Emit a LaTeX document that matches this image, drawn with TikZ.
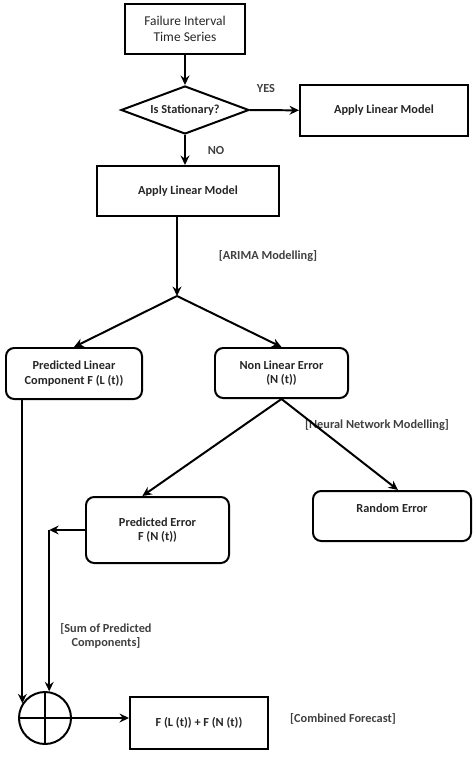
\documentclass[tikz,border=0pt]{standalone}
\usepackage{fontspec}
\setmainfont{Carlito}
\usetikzlibrary{positioning}
\usetikzlibrary{arrows.meta,shapes.geometric,calc}

\begin{document}
\begin{tikzpicture}[x=0.03cm, y=-0.03cm, line width=1.7pt,
  >={Stealth[length=8pt,width=7.5pt]},
  txt/.style={font=\fontsize{10.5}{12.5}\selectfont\bfseries, text=black!85},
  sqbox/.style={draw, rectangle, txt, align=center, inner sep=0pt},
  rbox/.style={sqbox, rounded corners=7pt},
  lbl/.style={txt, text=black!75, align=center}]

 \useasboundingbox (0,0) rectangle (474,758);

 % level 1
 \node[sqbox, font=\fontsize{11.5}{14}\selectfont, minimum width=3.6cm, minimum height=1.5cm] (ts) at (185,29) {Failure Interval\\Time Series};
 \node[draw, diamond, txt, inner sep=0pt, shape aspect=2.67, minimum width=3.84cm, minimum height=1.44cm] (stat) at (185,110) {Is Stationary?};
 \node[sqbox, minimum width=5.04cm, minimum height=1.53cm] (lin1) at (384,110.5) {Apply Linear Model};
 \node[sqbox, minimum width=5.46cm, minimum height=1.5cm] (lin2) at (188,191) {Apply Linear Model};
 \coordinate (split) at (177,296);

 %level 2
 \node[rbox, minimum width=4.08cm, minimum height=1.53cm] (plc) at (74,373.5) {Predicted Linear\\Component F (L (t))};
 \node[rbox, minimum width=3.99cm, minimum height=1.5cm] (nle) at (281.5,373) {Non Linear Error\\(N (t))};

 %level 3
 \node[rbox, minimum width=4.29cm, minimum height=1.98cm] (pe) at (157.5,530) {Predicted Error\\F (N (t))};
 \node[rbox, minimum width=4.74cm, minimum height=1.5cm, text depth=0.45cm] (re) at (392,516) {Random Error};

 % sum
 \node[draw, circle, minimum size=1.56cm, inner sep=0pt,
   path picture={\draw (path picture bounding box.north) -- (path picture bounding box.south)
                       (path picture bounding box.west) -- (path picture bounding box.east);}] (sum) at (45,718) {};
 \node[sqbox, minimum width=4.14cm, minimum height=1.56cm] (fc) at (199,723) {F (L (t)) + F (N (t))};

 % labels
 \foreach \x/\y/\txt/\n in {266/89/YES/yes, 216/151/NO/no, 268/256/[ARIMA Modelling]/arima,
                            377/425/[Neural Network Modelling]/nn, 343/719/[Combined Forecast]/comb}
   \node[lbl] (\n) at (\x,\y) {\txt};
 \node[lbl] (sumlbl) at (106,636) {[Sum of Predicted\\Components]};

 % lines
 \foreach \source/\dest in {ts/stat, stat/lin1, split/plc.north, split/nle.north, nle.south/pe.114, nle.south/re.77}
   \draw[->] (\source) -- (\dest);
 \draw[->] (stat.south) -- (stat.south |- lin2.north);
 \draw[->] (split |- lin2.south) -- (split);
 \draw[->] (sum.147 |- plc.south) -- (sum.147);
 \draw[->] (pe.west) -- (pe.west -| sum.81);
 \draw[->] (pe.west -| sum.81) -- (sum.81);
 \draw[->] (sum.east) -- (sum.east -| fc.west);

\end{tikzpicture}
\end{document}
